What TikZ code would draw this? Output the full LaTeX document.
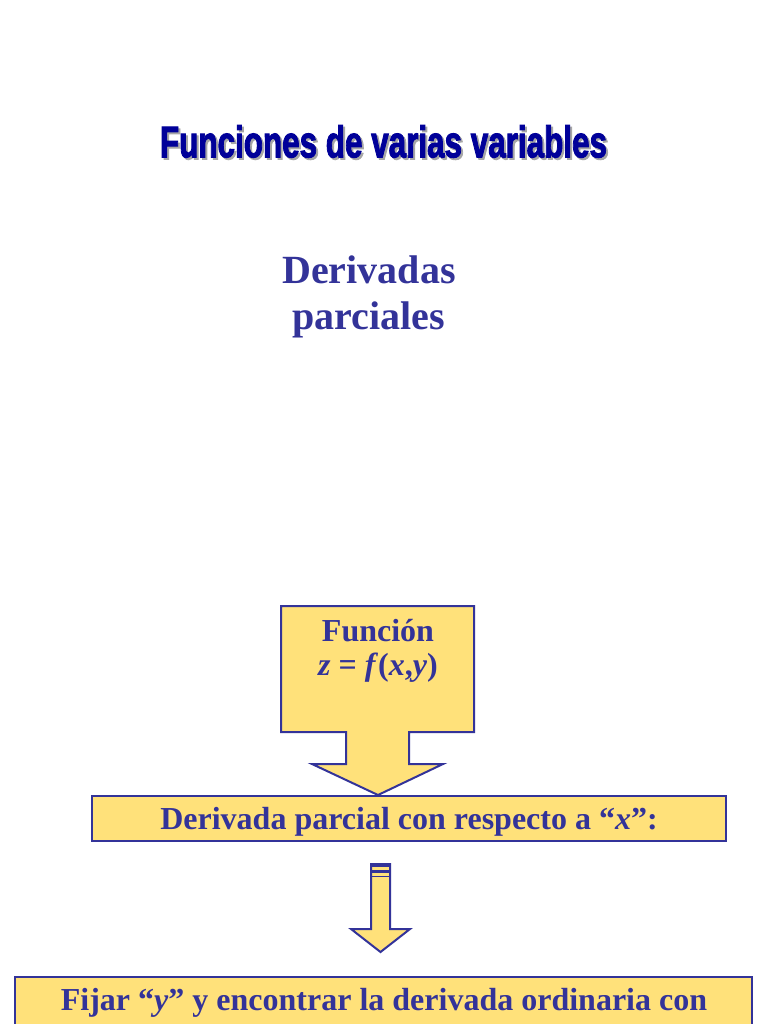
\documentclass[tikz,border=0pt]{standalone}
\usepackage{fontspec}
\setmainfont{Liberation Serif}
\newfontfamily\titlefont[BoldFeatures={FakeBold=2.5}]{Liberation Sans}
\usepackage{graphicx}
\definecolor{slideblue}{HTML}{333399}
\definecolor{titleblue}{HTML}{000099}
\definecolor{boxfill}{HTML}{FFE17A}

\begin{document}
\begin{tikzpicture}[x=1pt,y=-1pt]
        \tikzset{every node/.style={inner sep=0pt, text=slideblue, font=\fontsize{32}{37}\selectfont\bfseries}}
        \tikzset{boxline/.style={draw=slideblue, line width=2pt, fill=boxfill, line join=miter}}
        \useasboundingbox (0,0) rectangle (768,1024);
        \clip (0,0) rectangle (768,1024);
        % title with shadow
        \node [text=gray!70] (titleshadow) at (385.5,143.5) {\resizebox{447pt}{32pt}{\titlefont\bfseries Funciones de varias variables}};
        \node [text=titleblue] (title) at (383.5,141.5) {\resizebox{447pt}{32pt}{\titlefont\bfseries Funciones de varias variables}};
        \node [align=center, font=\fontsize{40}{46}\selectfont\bfseries] (subtitle) at (369,297) {Derivadas\\parciales};
        % first arrow box
        \draw [boxline] (281,606) -- (474,606) -- (474,732) -- (409,732) -- (409,764) -- (443,764)
              -- (378,795) -- (312,764) -- (346,764) -- (346,732) -- (281,732) -- cycle;
        \node (funcion) at (378,631) {Función};
        \node (zfxy) at (378,668) {\textit{z} = \textit{f}(\textit{x},\textit{y})};
        % second box
        \draw [boxline] (92,796) rectangle (726,841);
        \node (derx) at (409,822) {Derivada parcial con respecto a “\textit{x}”:};
        % small arrow
        \draw [boxline] (371,864) -- (390,864) -- (390,929) -- (410,929) -- (380.5,952) -- (351,929)
              -- (371,929) -- cycle;
        \fill [slideblue] (371,864) rectangle (390,867);
        \fill [slideblue] (371,869.5) rectangle (390,872.5);
        \draw [slideblue, line width=0.6pt] (371,876) -- (390,876);
        % third box
        \draw [boxline] (15,977) rectangle (752,1040);
        \node (fijar) at (384,1003) {Fijar “\textit{y}” y encontrar la derivada ordinaria con};
\end{tikzpicture}
\end{document}
